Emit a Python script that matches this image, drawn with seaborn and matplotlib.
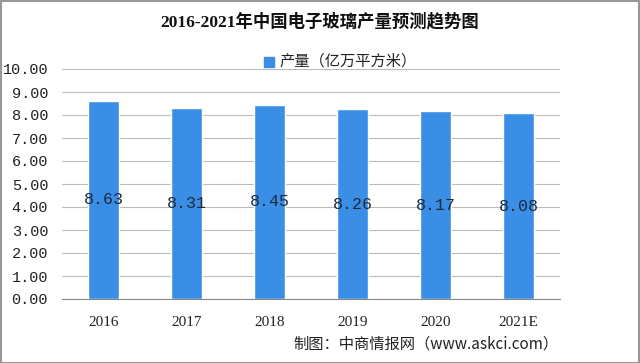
import matplotlib
matplotlib.use("Agg")
import matplotlib.pyplot as plt
import seaborn as sns
import pandas as pd
from matplotlib.patches import Rectangle

categories = ["2016", "2017", "2018", "2019", "2020", "2021E"]
values = [8.63, 8.31, 8.45, 8.26, 8.17, 8.08]
yticks = [0, 1, 2, 3, 4, 5, 6, 7, 8, 9, 10]
title = "2016-2021年中国电子玻璃产量预测趋势图"
legend_label = "产量（亿万平方米）"
source = "制图：中商情报网（www.askci.com）"

sns.set_theme(style="white")
plt.rcParams['font.family'] = ['Liberation Serif', 'Noto Sans CJK SC', 'DejaVu Sans']

df = pd.DataFrame({"year": categories, "value": values})

fig = plt.figure(figsize=(6.4, 3.63), dpi=100)
ax = fig.add_axes([62/640, 1 - 299/363, 498/640, 230/363])

sns.barplot(data=df, x="year", y="value", color="#3A8EE6", width=0.37,
            saturation=1, ax=ax, label=legend_label, zorder=3)

ax.set_ylim(0, 10)
ax.set_xlim(-0.5, len(categories) - 0.5)
ax.set_yticks(yticks)
ax.set_yticklabels([f"{v:.2f}" for v in yticks], fontsize=11, color="#222222",
                   family=['Liberation Mono', 'DejaVu Sans Mono'])
ax.set_xticks(range(len(categories)))
ax.set_xticklabels(categories, fontsize=11, color="#222222")
ax.set_xticks([i - 0.5 for i in range(len(categories) + 1)], minor=True)
ax.tick_params(axis='x', which='major', length=0, pad=12)
ax.tick_params(axis='x', which='minor', length=5, color="#888888", width=0.8, direction='out')
ax.tick_params(axis='y', length=0, pad=10)
ax.set_xlabel("")
ax.set_ylabel("")
ax.yaxis.grid(True, color="#BBBBBB", linewidth=0.8, zorder=0)
ax.set_axisbelow(True)
for s in ["top", "right", "left"]:
    ax.spines[s].set_visible(False)
ax.spines["bottom"].set_color("#888888")
ax.spines["bottom"].set_linewidth(0.8)

for i, v in enumerate(values):
    ax.text(i, v / 2, f"{v:.2f}", ha="center", va="center",
            fontsize=12, color="#1a2a3a", family=['Liberation Mono', 'DejaVu Sans Mono'], zorder=5)

if ax.get_legend() is not None:
    ax.get_legend().remove()

fig.text(0.5, 1 - 22/363, title, ha="center", va="center", fontsize=12.5,
         fontweight="bold", color="#111111")
fig.patches.append(Rectangle((264/640, 1 - 67/363), 10/640, 10/363,
                             transform=fig.transFigure, color="#3A8EE6", figure=fig))
fig.text(279/640, 1 - 61/363, legend_label, ha="left", va="center", fontsize=11,
         color="#222222", family=['Noto Sans CJK SC', 'DejaVu Sans'])
fig.text(558/640, 1 - 344/363, source, ha="right", va="center", fontsize=11,
         color="#222222", family=['Noto Sans CJK SC', 'DejaVu Sans'])

fig.patches.append(Rectangle((0.5/640, 0.5/363), 638.5/640, 361.5/363, transform=fig.transFigure,
                             fill=False, edgecolor="#999999", linewidth=1.5, figure=fig))

fig.savefig("out.png", dpi=100)
